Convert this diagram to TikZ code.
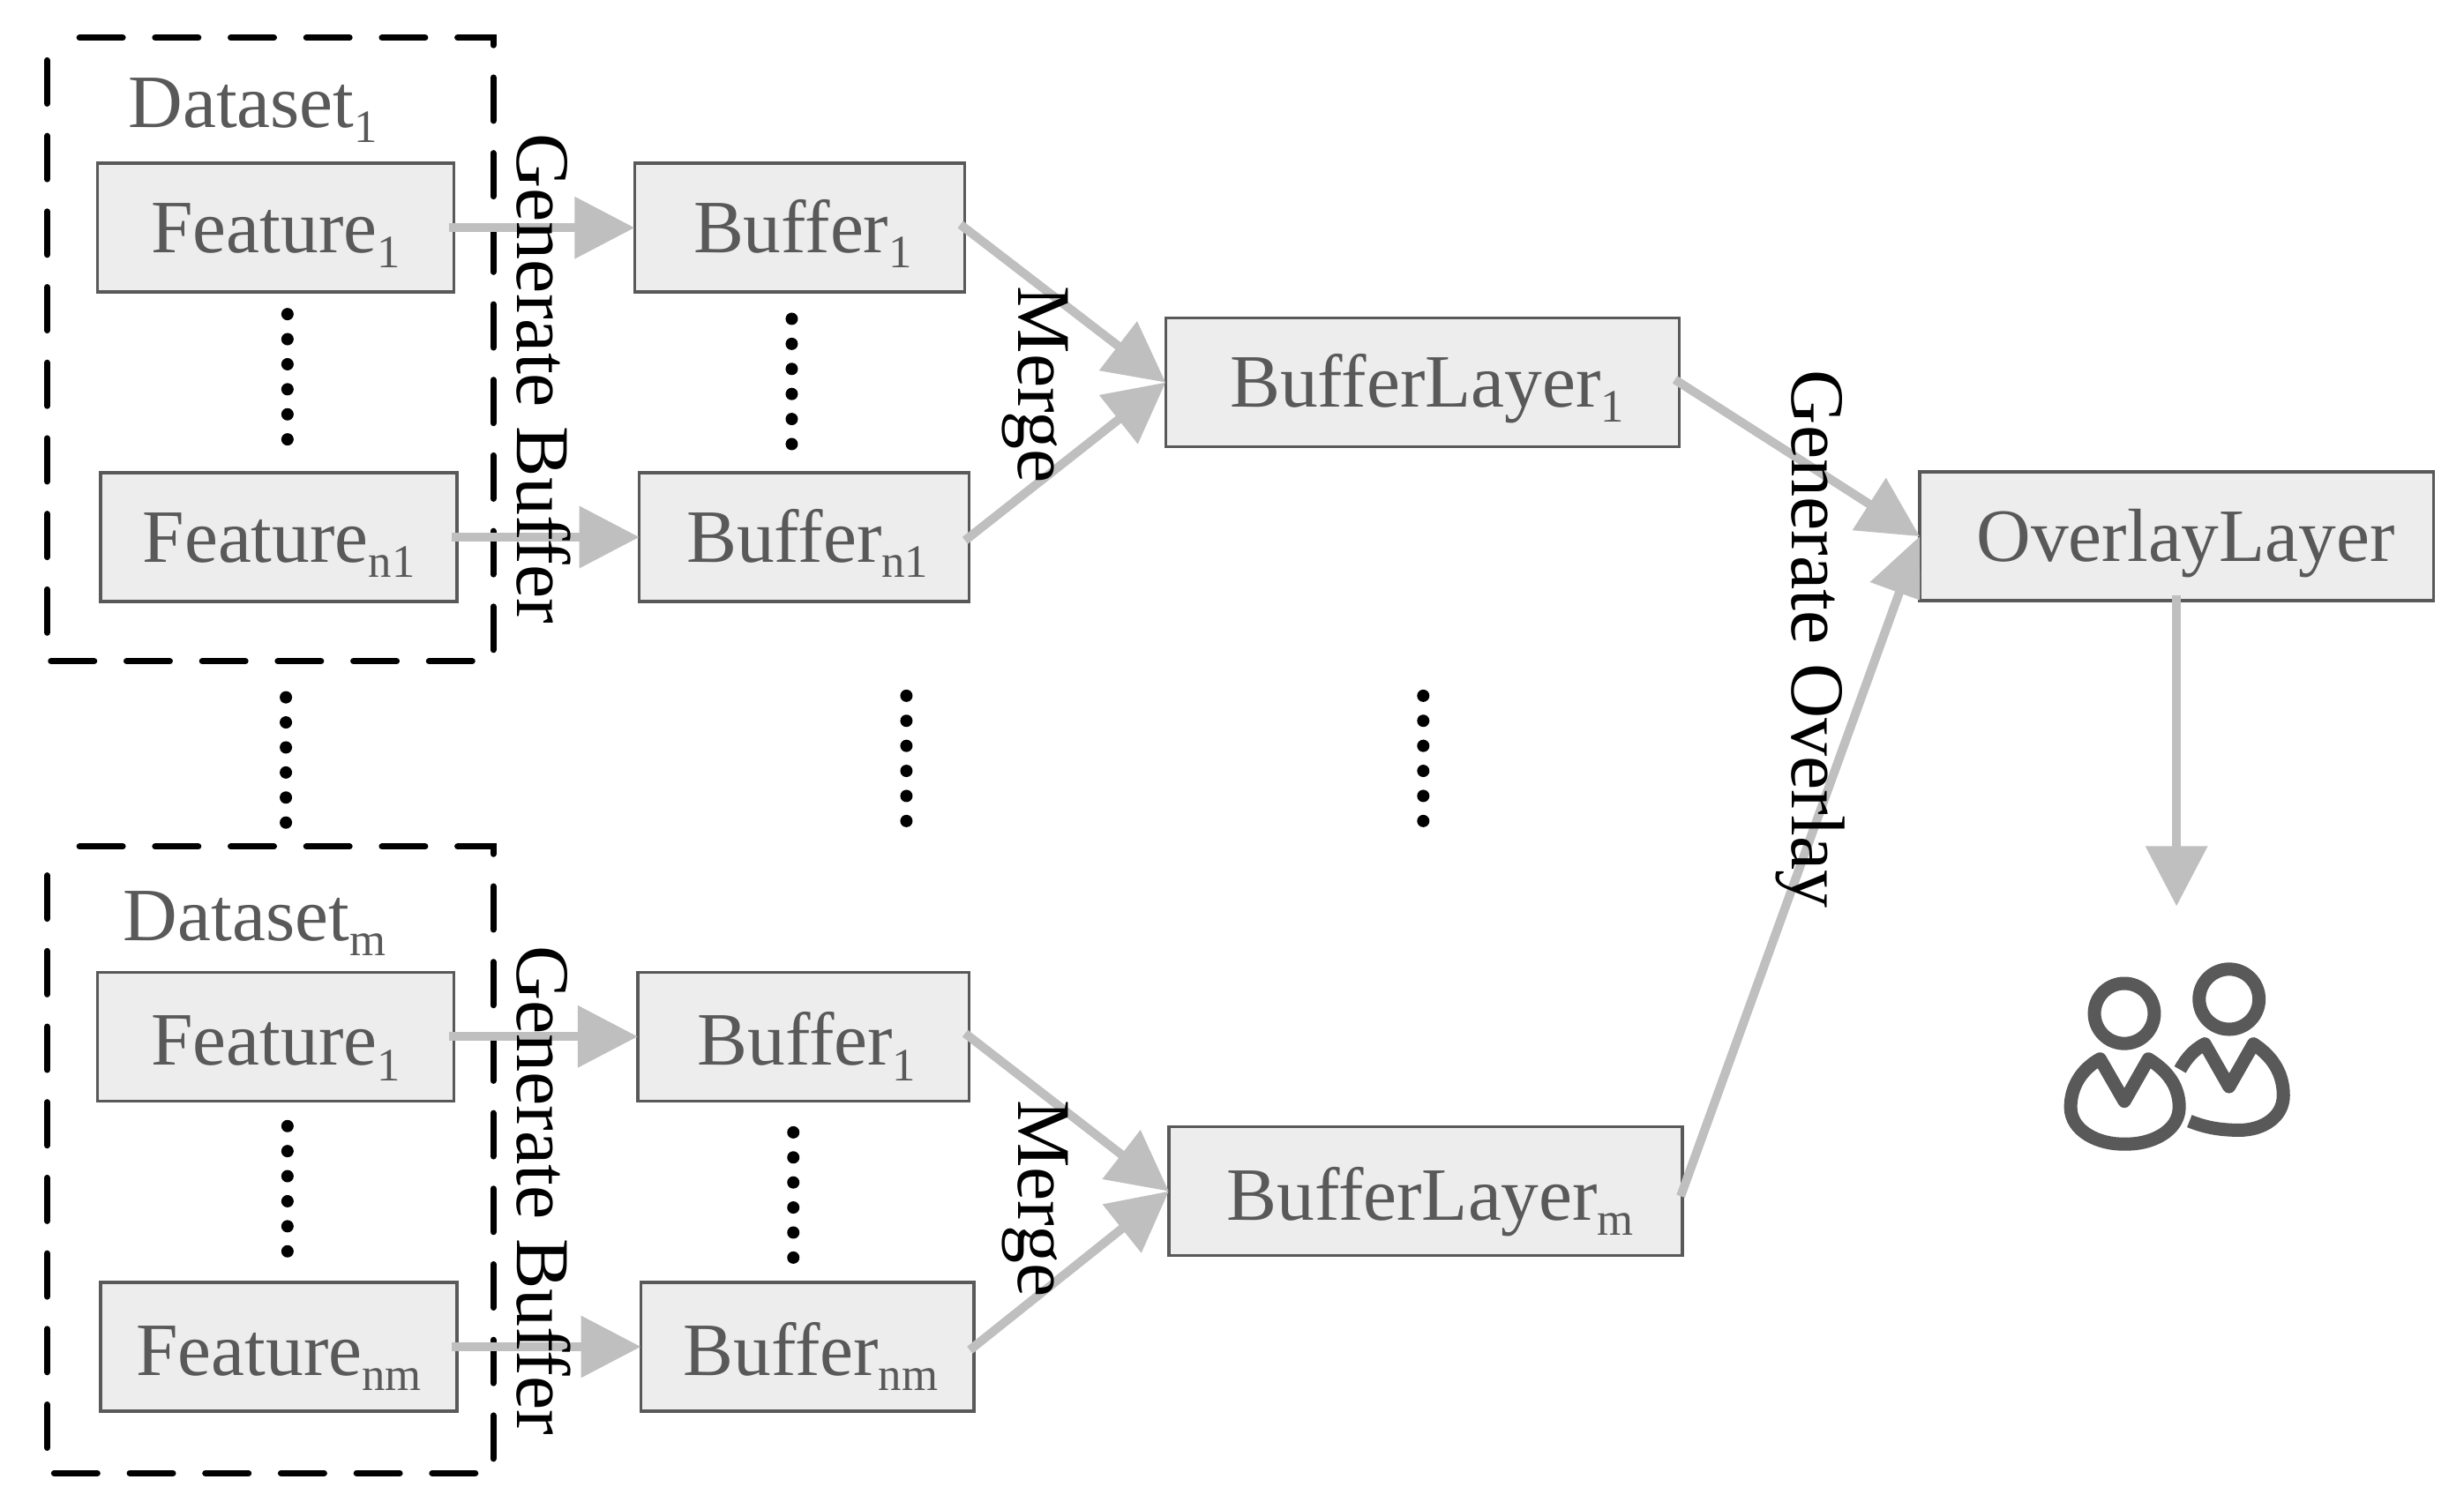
\documentclass[tikz,border=0pt]{standalone}
\usepackage{fontspec}
\setmainfont{Liberation Serif}
\usetikzlibrary{arrows.meta}
\newcommand{\lowsub}[1]{\raisebox{-0.2em}{\fontsize{15}{15}\selectfont #1}}
\definecolor{txt}{HTML}{595959}
\definecolor{boxfill}{HTML}{EDEDED}
\definecolor{arrowgray}{HTML}{BFBFBF}
\tikzset{
  textbase/.style={inner sep=0pt,outer sep=0pt,font=\fontsize{24.3}{28}\selectfont,text height=16.1pt,text depth=0pt,align=center},
  box/.style={textbase,draw=txt,fill=boxfill,line width=0.35mm,text=txt,minimum height=82*0.01781cm,minimum width=#1*0.01781cm},
  low/.style={text height=18.6pt},
  lab/.style={textbase,text=txt},
  vert/.style={textbase,font=\fontsize{24.5}{28}\selectfont,text=black,rotate=-90},
  dset/.style={draw=black,line width=0.7mm,line cap=round,line join=miter,dash pattern=on 4.9mm off 3.67mm,dash phase=4.9mm},
  dots/.style={draw=black,line width=1.4mm,line cap=round,dash pattern=on 0pt off 2.84mm},
  arr/.style={draw=arrowgray,line width=1mm,shorten <=-0.6mm,-{Triangle[length=6.8mm,width=6.8mm,fill=arrowgray]}},
  person/.style={draw=txt,line width=1.5mm,line join=round}
}
\begin{document}
\begin{tikzpicture}[x=0.01781cm,y=-0.01781cm]
\useasboundingbox (0,0) rectangle (27.93cm,-17.02cm);
% dashed groups
\draw[dset] (30,24) -- (314,24) -- (314,421) -- (30,421) -- cycle;
\draw[dset] (30,539) -- (314,539) -- (314,938) -- (30,938) -- cycle;
% boxes
\node[box=227] (f1)  at (175.5,145)  {Feature\lowsub{1}};
\node[box=227] (fn1) at (177.5,342)  {Feature\lowsub{n1}};
\node[box=210] (b1)  at (509,145)    {\hspace*{2pt}Buffer\lowsub{1}};
\node[box=210] (bn1) at (512,342)    {\hspace*{2pt}Buffer\lowsub{n1}};
\node[box=327] (bl1) at (905.5,243.5){\hspace*{3pt}BufferLayer\lowsub{1}};
\node[box=327] (ov)  at (1385.5,341.5){\hspace*{6pt}OverlayLayer};
\node[box=227,low] (f2)  at (175.5,660)  {Feature\lowsub{1}};
\node[box=227,low] (fnm) at (177.5,857.5){Feature\lowsub{nm}};
\node[box=211,low] (b2)  at (511.5,660)  {\hspace*{2pt}Buffer\lowsub{1}};
\node[box=212,low] (bnm) at (514,857.5)  {\hspace*{2pt}Buffer\lowsub{nm}};
\node[box=327,low] (blm) at (907.5,758.5){\hspace*{3pt}BufferLayer\lowsub{m}};
\node[lab] (d1) at (161,65)  {Dataset\lowsub{1}};
\node[lab] (dm) at (162,583) {Dataset\lowsub{m}};
% dots
\draw[dots] (183,200) -- (183,282);
\draw[dots] (504,203) -- (504,285);
\draw[dots] (182,444) -- (182,526);
\draw[dots] (577,443) -- (577,525);
\draw[dots] (906,443) -- (906,525);
\draw[dots] (183,717) -- (183,799);
\draw[dots] (505,721) -- (505,803);
% arrows
\coordinate (users) at (1385.5,577);
\draw[arr] (f1.east) -- (b1.west);
\draw[arr] (fn1.east) -- (bn1.west);
\draw[arr] (f2.east) -- (b2.west);
\draw[arr] (fnm.east) -- (bnm.west);
\draw[arr] (b1.east) -- (bl1.west);
\draw[arr] (bn1.east) -- (bl1.west);
\draw[arr] (b2.east) -- (blm.west);
\draw[arr] (bnm.east) -- (blm.west);
\draw[arr] (bl1.east) -- (ov.west);
\begin{scope}
  \clip (0,0) rectangle (ov.west |- blm.south);
  \draw[arr] (blm.east) -- (ov.west);
\end{scope}
\draw[arr] (ov.south) -- (users);
% rotated labels
\node[vert] (g1) at (345,241) {Generate Buffer};
\node[vert] (g2) at (345,758) {Generate Buffer};
\node[vert] (m1) at (664,245) {Merge};
\node[vert] (m2) at (664,763) {Merge};
\node[vert] (go) at (1157,407) {Generate Overlay};
% users icon
\begin{scope}[shift={(1263,364.9)},x=0.00333cm,y=-0.004484cm]
  \draw[person] (478,1113) ellipse [x radius=102,y radius=76];
  \draw[person] (835,1077) ellipse [x radius=102,y radius=76];
  \draw[person] (395,1228) -- (478,1335) -- (560,1228)
    .. controls (630,1260) and (665,1300) .. (665,1350)
    .. controls (665,1410) and (570,1445) .. (480,1443)
    .. controls (390,1445) and (295,1410) .. (295,1350)
    .. controls (295,1300) and (330,1255) .. (395,1228) -- cycle;
  \draw[person] (668,1255) .. controls (690,1225) and (715,1205) .. (752,1190)
    -- (835,1298) -- (918,1190)
    .. controls (990,1225) and (1020,1270) .. (1020,1320)
    .. controls (1020,1375) and (950,1408) .. (870,1408)
    .. controls (800,1408) and (750,1400) .. (700,1385);
\end{scope}
\end{tikzpicture}
\end{document}
